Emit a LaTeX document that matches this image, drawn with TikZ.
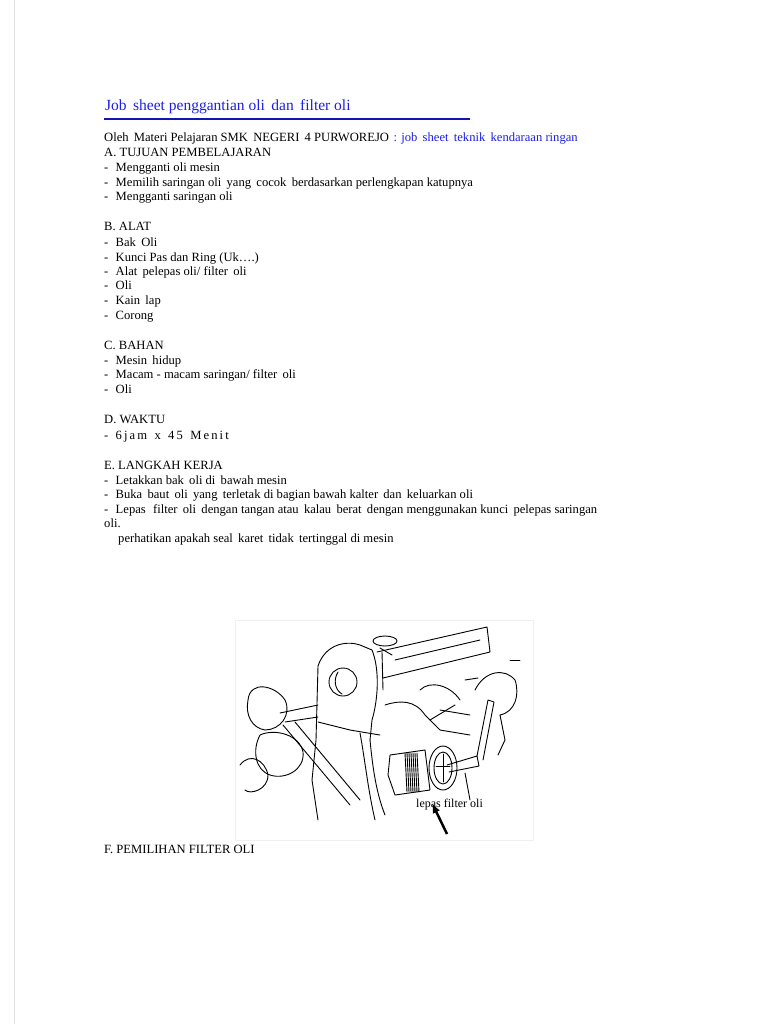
\documentclass[tikz,border=0pt]{standalone}
\usepackage{fontspec}
\usetikzlibrary{arrows.meta}
\setmainfont{Liberation Serif}
\begin{document}
\begin{tikzpicture}[x=1pt,y=-1pt,
  txt/.style={anchor=base west,inner sep=0pt,font=\fontsize{12.6}{14}\selectfont},
  btxt/.style={txt,text={rgb,255:red,30;green,30;blue,230}},
  sk/.style={line width=0.9pt,line join=round,line cap=round}]
\useasboundingbox (0,0) rectangle (768,1024);
\fill[white] (0,0) rectangle (768,1024);
\draw[black!12] (14,0) -- (14,1024);
\node[txt,font=\fontsize{15.5}{17}\selectfont,text={rgb,255:red,30;green,30;blue,230}] (title) at (105,111) {Job\, sheet penggantian oli\, dan\, filter oli};
\draw[line width=2.6pt,color={rgb,255:red,20;green,20;blue,180}] (104,119) -- (470,119);
\node[txt] (oleh) at (104,142) {Oleh\, Materi Pelajaran SMK\, NEGERI\, 4 PURWOREJO\, };
\node[btxt] (sub) at (oleh.base east) {\,: job\, sheet\, teknik\, kendaraan ringan};
\foreach \y/\t in {157/{A. TUJUAN PEMBELAJARAN},
  172/{-\,\, Mengganti oli mesin},
  187/{-\,\, Memilih saringan oli\, yang\, cocok\, berdasarkan perlengkapan katupnya},
  201/{-\,\, Mengganti saringan oli},
  231/{B. ALAT},
  246/{-\,\, Bak\, Oli},
  261/{-\,\, Kunci Pas dan Ring (Uk\ldots.)},
  275/{-\,\, Alat\, pelepas oli/ filter\, oli},
  289/{-\,\, Oli},
  304/{-\,\, Kain\, lap},
  319/{-\,\, Corong},
  349/{C. BAHAN},
  364/{-\,\, Mesin\, hidup},
  378/{-\,\, Macam - macam saringan/ filter\, oli},
  393/{-\,\, Oli},
  423/{D. WAKTU},
  469/{E. LANGKAH KERJA},
  484/{-\,\, Letakkan bak\, oli di\, bawah mesin},
  498/{-\,\, Buka\, baut\, oli\, yang\, terletak di bagian bawah kalter\, dan\, keluarkan oli},
  513/{-\,\, Lepas\,\, filter\, oli\, dengan tangan atau\, kalau\, berat\, dengan menggunakan kunci\, pelepas saringan},
  527/{oli.},
  853/{F. PEMILIHAN FILTER OLI}}
  \node[txt] at (104,\y) {\t};
\node[txt] (waktu) at (104,439) {-\,\, 6\,j\,a\,m\,\, x\,\, 4\,5\,\, M\,e\,n\,i\,t};
\node[txt] (perh) at (118,542) {perhatikan apakah seal\, karet\, tidak\, tertinggal di mesin};
% sketch
\draw[black!6] (235,620) rectangle (533,840);
\begin{scope}[sk]
\draw (377,652) -- (487,627) -- (490,652) -- (383,678);
\draw (395,660) -- (480,640);
\draw (382,652) -- (383,690);
\draw (385,641) ellipse (12 and 5);
\draw (380,648) -- (392,655);
\draw (318,666) .. controls (325,645) and (345,640) .. (360,645) -- (372,650) .. controls (380,670) and (378,700) .. (372,720) -- (370,740);
\draw (318,666) -- (316,740) -- (312,780) -- (318,820);
\draw (343,682) circle (14);
\draw (338,672) .. controls (333,680) and (335,690) .. (342,694);
\draw (248,700) .. controls (250,680) and (275,685) .. (285,700) .. controls (292,715) and (280,730) .. (265,730) .. controls (252,728) and (245,715) .. (248,700);
\draw (260,735) .. controls (275,728) and (300,735) .. (303,752) .. controls (305,770) and (285,780) .. (270,775) .. controls (255,770) and (252,750) .. (260,735);
\draw (240,765) .. controls (250,752) and (265,760) .. (268,775) .. controls (268,790) and (250,795) .. (245,790);
\draw (280,713) -- (318,705);
\draw (285,722) -- (318,717);
\draw (283,725) -- (350,805);
\draw (295,722) -- (360,800);
\draw (318,722) -- (350,730) -- (380,735);
\draw (370,740) .. controls (372,760) and (375,790) .. (385,815);
\draw (360,733) .. controls (365,760) and (368,790) .. (375,820);
\draw (385,705) .. controls (400,700) and (415,700) .. (425,715) -- (440,730) -- (470,735);
\draw (420,690) .. controls (430,680) and (450,685) .. (460,700);
\draw (430,720) -- (455,705);
\draw (475,690) .. controls (485,670) and (505,668) .. (515,680) .. controls (520,695) and (515,712) .. (500,715);
\draw (500,715) -- (505,740) -- (498,755);
\draw (510,660) -- (520,660);
\draw (465,680) -- (478,678);
\draw (440,710) -- (470,715);
\draw (390,755) -- (425,750) -- (430,790) -- (395,795) -- (388,775) -- cycle;
\foreach \k in {0,1,2,3,4,5,6} \draw (405+2*\k,753) -- (407+2*\k,792);
\draw (443,768) ellipse (14 and 22);
\draw (443,768) ellipse (9 and 16);
\draw (436,766) -- (450,766);
\draw (443,754) -- (443,782);
\draw (447,765) -- (477,756) -- (479,766) -- (449,772);
\draw (477,756) -- (488,700) -- (494,702) -- (483,760);
\draw (465,773) -- (470,800);
\end{scope}
\node[txt,font=\fontsize{12}{13}\selectfont] (lep) at (416,807) {lepas filter oli};
\coordinate (atail) at (447,834);
\coordinate (ahead) at (432,803);
\draw[line width=2.5pt,-{Latex[length=10pt,width=8pt]}] (atail) -- (ahead);
\end{tikzpicture}
\end{document}
